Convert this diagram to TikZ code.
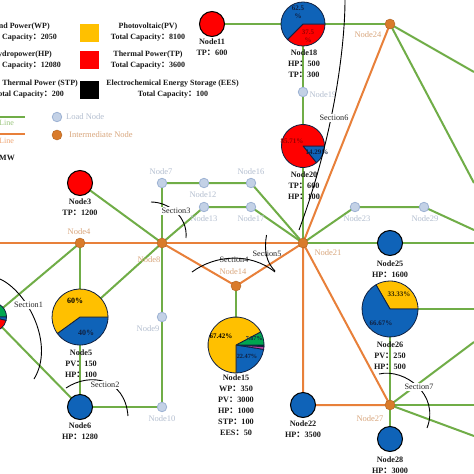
\documentclass[tikz,border=0pt]{standalone}
\usepackage{fontspec}
\setmainfont{Liberation Serif}
\newfontfamily\cjk{Noto Sans CJK SC}
\usetikzlibrary{backgrounds}
\definecolor{gline}{HTML}{70AD47}
\definecolor{oline}{HTML}{E8803A}
\definecolor{onode}{HTML}{D97B2B}
\definecolor{lnode}{HTML}{C3D1E6}
\definecolor{lrim}{HTML}{9DB2D3}
\definecolor{pv}{HTML}{FFC000}
\definecolor{hp}{HTML}{0F63B8}
\definecolor{tp}{HTML}{FF0000}
\definecolor{wp}{HTML}{00A650}
\definecolor{stp}{HTML}{C040A0}
\definecolor{rim}{HTML}{102040}
\definecolor{ltxt}{HTML}{B4BFD0}
\definecolor{otxt}{HTML}{D9A77E}
\newcommand\cc{{\cjk：}}
\newcommand\slice[6]{\fill[#6] (#1,#2) -- ++({#3*cos(#4)},{-#3*sin(#4)}) arc[start angle=#4,end angle=#5,radius=#3 pt] -- cycle;\draw[rim,line width=.8pt,line join=round] (#1,#2) -- ++({#3*cos(#4)},{-#3*sin(#4)}) arc[start angle=#4,end angle=#5,radius=#3 pt] -- cycle;}
\tikzset{
  gridg/.style={draw=gline,line width=2pt},
  grido/.style={draw=oline,line width=2pt},
  gen/.style={circle,draw=black,line width=1pt,fill=hp,minimum size=25pt,inner sep=0pt},
  piebase/.style={circle,minimum size=#1,inner sep=0pt},
  loadn/.style={circle,draw=lrim,line width=.8pt,fill=lnode,minimum size=9.5pt,inner sep=0pt},
  midn/.style={circle,draw=onode!80!black,line width=.4pt,fill=onode,minimum size=10pt,inner sep=0pt},
  blk/.style={font=\fontsize{8.2}{11}\selectfont\bfseries,align=center,inner sep=0pt,anchor=north,text=black!90,yshift=-3pt},
  lgd/.style={font=\fontsize{8}{11}\selectfont\bfseries,inner sep=0pt,align=center,text=black!90},
  ltag/.style={font=\fontsize{8.5}{10}\selectfont,text=ltxt,inner sep=0pt},
  otag/.style={font=\fontsize{8.5}{10}\selectfont,text=otxt,inner sep=0pt},
  ptxt/.style={font=\fontsize{7}{9}\selectfont\bfseries,text=#1,inner sep=0pt,align=center},
  sect/.style={font=\fontsize{8.2}{10}\selectfont,fill=white,inner sep=1pt,text=black!85},
  arcl/.style={draw=black,line width=.9pt},
  swatch/.style={minimum width=19pt,minimum height=18pt,inner sep=0pt}
}
\begin{document}
\begin{tikzpicture}[x=1pt,y=-1pt]
\useasboundingbox (0,0) rectangle (474,474);
\clip (0,0) rectangle (474,474);
% nodes
\node[gen,fill=tp] (n11) at (212,24) {};
\node[gen,fill=tp] (n3) at (80,183) {};
\node[gen] (n6) at (80,407) {};
\node[gen] (n22) at (303,405) {};
\node[gen] (n25) at (390,243) {};
\node[gen] (n28) at (390,439) {};
\node[piebase=44pt] (n18) at (303,24) {};
\node[piebase=43pt] (n20) at (303,146) {};
\node[piebase=56pt] (n5) at (80,317) {};
\node[piebase=56pt] (n15) at (236,345) {};
\node[piebase=56pt] (n26) at (390,309) {};
\node[piebase=29pt] (n1) at (-8,317) {};
\node[loadn] (n7) at (162,183) {};
\node[loadn] (n12) at (204,183) {};
\node[loadn] (n13) at (204,207) {};
\node[loadn] (n16) at (251,183) {};
\node[loadn] (n17) at (251,207) {};
\node[loadn] (n19) at (303,92) {};
\node[loadn] (n9) at (162,317) {};
\node[loadn] (n10) at (162,407) {};
\node[loadn] (n23) at (355,207) {};
\node[loadn] (n29) at (424,207) {};
\node[midn] (n4) at (80,243) {};
\node[midn] (n8) at (162,243) {};
\node[midn] (n14) at (236,286) {};
\node[midn] (n21) at (303,243) {};
\node[midn] (n24) at (390,24) {};
\node[midn] (n27) at (390,405) {};
\coordinate (w0) at (0,243);
\coordinate (e1) at (474,72);
\coordinate (e2) at (474,183);
\coordinate (e3) at (474,230);
\coordinate (e4) at (474,243);
\coordinate (e5) at (474,309);
\coordinate (e6) at (474,342);
\coordinate (e7) at (474,405);
\coordinate (e8) at (474,436);
% connectors
\begin{scope}[on background layer]
\fill[white] (0,0) rectangle (474,474);
\draw[gridg] (n11.center) -- (n18.center) -- (n24.center);
\draw[gridg] (n18.center) -- (n19.center) -- (n20.center) -- (n21.center);
\draw[gridg] (n24.center) -- (e1);
\draw[gridg] (n24.center) -- (e2);
\draw[gridg] (n7.center) -- (n12.center) -- (n16.center) -- (n21.center);
\draw[gridg] (n13.center) -- (n17.center) -- (n21.center);
\draw[gridg] (n8.center) -- (n7.center);
\draw[gridg] (n8.center) -- (n13.center);
\draw[gridg] (n3.center) -- (n8.center);
\draw[gridg] (n8.center) -- (n5.center);
\draw[gridg] (n8.center) -- (n9.center) -- (n10.center) -- (n6.center);
\draw[gridg] (n4.center) -- (n5.center) -- (n6.center);
\draw[gridg] (n1.center) -- (n4.center);
\draw[gridg] (n1.center) -- (n6.center);
\draw[gridg] (n14.center) -- (n15.center);
\draw[gridg] (n21.center) -- (n23.center) -- (n29.center) -- (e3);
\draw[gridg] (n21.center) -- (n25.center) -- (e4);
\draw[gridg] (n26.center) -- (e5);
\draw[gridg] (n26.center) -- (n27.center) -- (n28.center);
\draw[gridg] (n27.center) -- (e6);
\draw[gridg] (n27.center) -- (e7);
\draw[gridg] (n27.center) -- (e8);
\draw[grido] (w0) -- (n4.center) -- (n8.center) -- (n21.center);
\draw[grido] (n8.center) -- (n14.center) -- (n21.center);
\draw[grido] (n21.center) -- (n24.center);
\draw[grido] (n21.center) -- (n22.center) -- (n27.center) -- (n21.center);
\end{scope}
% pies
\slice{303}{24}{22}{0}{-135}{tp}
\slice{303}{24}{22}{-135}{-360}{hp}
\slice{303}{146}{21.5}{0}{-51.4}{hp}
\slice{303}{146}{21.5}{-51.4}{-360}{tp}
\slice{80}{317}{28}{0}{-144}{hp}
\slice{80}{317}{28}{-144}{-360}{pv}
\slice{390}{309}{28}{0}{120}{pv}
\slice{390}{309}{28}{120}{360}{hp}
\slice{236}{345}{28}{-90}{-9}{hp}
\slice{236}{345}{28}{-9}{-3}{stp}
\slice{236}{345}{28}{-3}{0}{black}
\slice{236}{345}{28}{0}{28}{wp}
\slice{236}{345}{28}{28}{270}{pv}
\slice{-8}{317}{14.5}{0}{90}{wp}
\slice{-8}{317}{14.5}{90}{180}{hp}
\slice{-8}{317}{14.5}{-14}{0}{hp}
\slice{-8}{317}{14.5}{-90}{-14}{tp}
% pie labels
\node[ptxt=rim] (p18a) at (298,12) {62.5\\[-1pt]\%};
\node[ptxt=tp!60!black] (p18b) at (308,36) {37.5\\[-1pt]\%};
\node[ptxt=tp!60!black] (p20a) at (292,141) {85.71\%};
\node[ptxt=rim] (p20b) at (317,152) {14.29\%};
\node[ptxt=black,font=\fontsize{8}{9}\selectfont\bfseries] (p5a) at (75,301) {60\%};
\node[ptxt=rim,font=\fontsize{8}{9}\selectfont\bfseries] (p5b) at (86,333) {40\%};
\node[ptxt=black!80!pv] (p26a) at (399,294) {33.33\%};
\node[ptxt=rim] (p26b) at (381,323) {66.67\%};
\node[ptxt=black] (p15a) at (221,336) {67.42\%};
\node[ptxt=rim,font=\fontsize{6}{7}\selectfont\bfseries] (p15b) at (254,339) {7.87\%};
\node[ptxt=rim,font=\fontsize{6.3}{7}\selectfont\bfseries] (p15c) at (247,356) {22.47\%};
% generator text
\node[blk] (t11) at (212,35.5) {Node11\\TP\cc 600};
\node[blk] (t3) at (80,196) {Node3\\TP\cc 1200};
\node[blk] (t5) at (81,347) {Node5\\PV\cc 150\\HP\cc 100};
\node[blk] (t6) at (80,420) {Node6\\HP\cc 1280};
\node[blk] (t15) at (236,372) {Node15\\WP\cc 350\\PV\cc 3000\\HP\cc 1000\\STP\cc 100\\EES\cc 50};
\node[blk] (t18) at (304,47) {Node18\\HP\cc 500\\TP\cc 300};
\node[blk] (t20) at (304,169) {Node20\\TP\cc 600\\HP\cc 100};
\node[blk] (t22) at (303,418) {Node22\\HP\cc 3500};
\node[blk] (t25) at (390,258) {Node25\\HP\cc 1600};
\node[blk] (t26) at (390,339) {Node26\\PV\cc 250\\HP\cc 500};
\node[blk] (t28) at (390,454) {Node28\\HP\cc 3000};
% small tags
\node[ltag] (t7) at (161,172) {Node7};
\node[ltag] (t12) at (203,195) {Node12};
\node[ltag] (t13) at (204,219) {Node13};
\node[ltag] (t16) at (251,172) {Node16};
\node[ltag] (t17) at (251,219) {Node17};
\node[ltag] (t19) at (323,95) {Node19};
\node[ltag] (t23) at (357,219) {Node23};
\node[ltag] (t29) at (425,219) {Node29};
\node[ltag] (t9) at (148,329) {Node9};
\node[ltag] (t10) at (162,419) {Node10};
\node[otag] (t4) at (79,232) {Node4};
\node[otag] (t8) at (149,260) {Node8};
\node[otag] (t14) at (233,272) {Node14};
\node[otag] (t21) at (328,253) {Node21};
\node[otag] (t24) at (368,35) {Node24};
\node[otag] (t27) at (370,419) {Node27};
% sections
\draw[arcl] (345,0) .. controls (345,40) and (336,130) .. (299,230);
\node[sect] (s6) at (334,118) {Section6};
\draw[arcl] (151,202) .. controls (168,202) and (188,216) .. (186,238);
\node[sect] (s3) at (176,211) {Section3};
\draw[arcl] (0,279) .. controls (28,292) and (55,345) .. (34,379);
\node[sect] (s1) at (28.5,305) {Section1};
\draw[arcl] (66,388) .. controls (90,372) and (125,378) .. (128,416);
\node[sect] (s2) at (105,385) {Section2};
\draw[arcl] (192,272) .. controls (215,255) and (250,252) .. (275,272);
\node[sect,fill=none] (s4) at (234,260) {Section4};
\draw[arcl] (266.5,235) .. controls (264,250) and (266,262) .. (275,271);
\node[sect,fill=none] (s5) at (267,254) {Section5};
\draw[arcl] (379,374) .. controls (405,368) and (440,395) .. (427,428);
\node[sect] (s7) at (419,387) {Section7};
% legend
\node[swatch,fill=pv] (k1) at (89.5,33) {};
\node[swatch,fill=tp] (k2) at (89.5,60) {};
\node[swatch,fill=black] (k3) at (89.5,89.5) {};
\node[lgd,anchor=east] (g1) at (50,27) {Wind Power(WP)};
\node[lgd,anchor=east] (g2) at (57,38) {Total Capacity\cc 2050};
\node[lgd,anchor=east] (g3) at (52,55) {Hydropower(HP)};
\node[lgd,anchor=east] (g4) at (61,66) {Total Capacity\cc 12080};
\node[lgd,anchor=east] (g5) at (78,84) {Solar Thermal Power (STP)};
\node[lgd,anchor=east] (g6) at (64,95) {Total Capacity\cc 200};
\node[lgd] (g7) at (148,27) {Photovoltaic(PV)};
\node[lgd] (g8) at (148,38) {Total Capacity\cc 8100};
\node[lgd] (g9) at (148,55) {Thermal Power(TP)};
\node[lgd] (g10) at (148,66) {Total Capacity\cc 3600};
\node[lgd] (g11) at (172.5,84) {Electrochemical Energy Storage (EES)};
\node[lgd] (g12) at (173,95) {Total Capacity\cc 100};
\node[lgd,anchor=east] (g13) at (15,158) {MW};
\coordinate (la) at (0,117);
\coordinate (lb) at (25,117);
\coordinate (lc) at (0,134);
\coordinate (ld) at (25,134);
\draw[gridg,line width=1.6pt] (la) -- (lb);
\draw[grido,line width=1.6pt] (lc) -- (ld);
\node[font=\fontsize{8}{10}\selectfont,text=gline!70!white,anchor=east,inner sep=0pt] (g14) at (14,123) {Line};
\node[font=\fontsize{8}{10}\selectfont,text=oline!70!white,anchor=east,inner sep=0pt] (g15) at (14,141) {Line};
\node[loadn] (k4) at (57,117) {};
\node[midn] (k5) at (57,135) {};
\node[ltag,anchor=west] (g16) at (66,117) {Load Node};
\node[otag,anchor=west] (g17) at (69,135) {Intermediate Node};
\end{tikzpicture}
\end{document}
